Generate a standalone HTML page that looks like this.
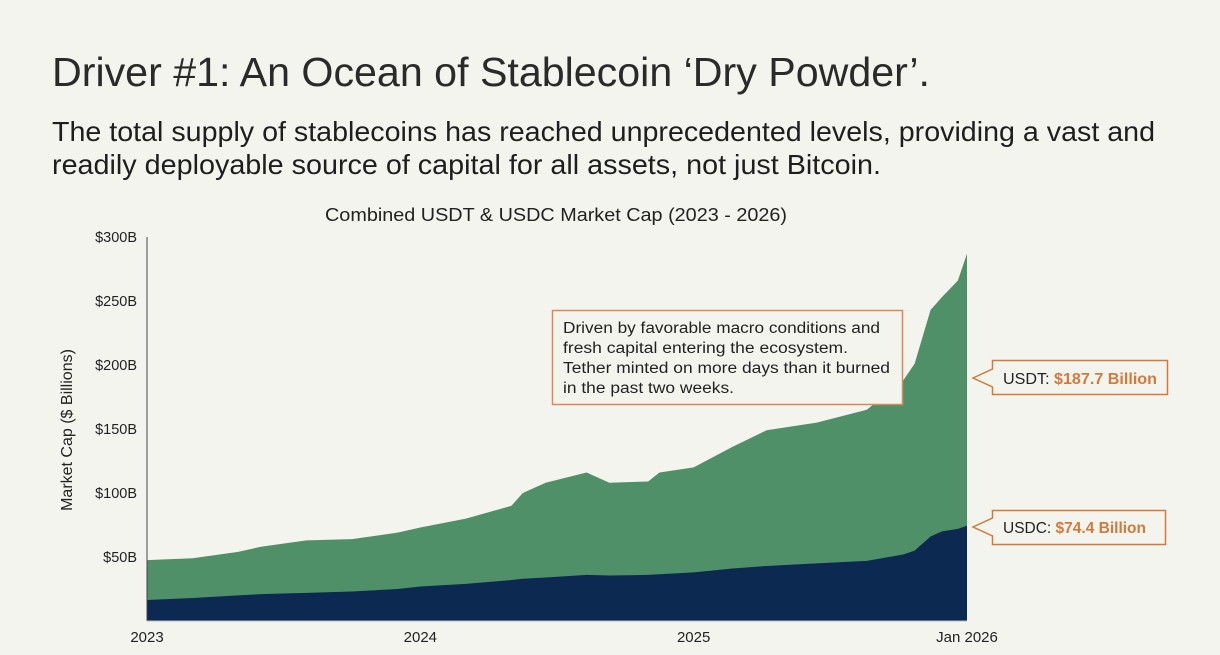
<!DOCTYPE html>
<html><head><meta charset="utf-8"><style>
body{margin:0;background:#f4f4ef;}
svg{display:block;font-family:"Liberation Sans",sans-serif;}
</style></head><body>
<svg id="chart" width="1220" height="655" viewBox="0 0 1220 655">
<rect x="0" y="0" width="1220" height="655" fill="#f4f4ef"/>
<text x="52" y="86" font-size="41" fill="#2a2a2a" textLength="878" lengthAdjust="spacingAndGlyphs">Driver #1: An Ocean of Stablecoin ‘Dry Powder’.</text>
<text x="52" y="141" font-size="27.5" fill="#1e1e1e" textLength="1103" lengthAdjust="spacingAndGlyphs">The total supply of stablecoins has reached unprecedented levels, providing a vast and</text>
<text x="52" y="174" font-size="27.5" fill="#1e1e1e" textLength="829" lengthAdjust="spacingAndGlyphs">readily deployable source of capital for all assets, not just Bitcoin.</text>
<text x="325" y="221" font-size="18" fill="#222" textLength="462" lengthAdjust="spacingAndGlyphs">Combined USDT &amp; USDC Market Cap (2023 - 2026)</text>
<text transform="translate(72,430) rotate(-90)" font-size="16" text-anchor="middle" fill="#222">Market Cap ($ Billions)</text>
<g id="areas"></g>
<g id="axes"></g>
<g>
<rect x="552.5" y="310.5" width="350" height="94" fill="#f4f4ef" stroke="#d8895a" stroke-width="1.5"/>
<text font-size="15.5" fill="#222"><tspan x="563" y="333" textLength="317" lengthAdjust="spacingAndGlyphs">Driven by favorable macro conditions and</tspan><tspan x="563" y="353" textLength="285" lengthAdjust="spacingAndGlyphs">fresh capital entering the ecosystem.</tspan><tspan x="563" y="373" textLength="327" lengthAdjust="spacingAndGlyphs">Tether minted on more days than it burned</tspan><tspan x="563" y="393" textLength="171" lengthAdjust="spacingAndGlyphs">in the past two weeks.</tspan></text>
</g>
<g>
<path d="M992.5 360.5 H1167.5 V394.5 H992.5 V387 L973 378 L992.5 369 Z" fill="#f4f4ef" stroke="#d27a3c" stroke-width="1.5"/>
<text x="1003" y="384" font-size="15.5" fill="#222" textLength="154" lengthAdjust="spacingAndGlyphs">USDT: <tspan font-weight="bold" fill="#d27a3c">$187.7 Billion</tspan></text>
</g>
<g>
<path d="M992.5 510.5 H1165.5 V544.5 H992.5 V536 L973 527 L992.5 518 Z" fill="#f4f4ef" stroke="#d27a3c" stroke-width="1.5"/>
<text x="1003" y="533" font-size="15.5" fill="#222">USDC: <tspan font-weight="bold" fill="#d27a3c">$74.4 Billion</tspan></text>
</g>
</svg>
<script>
const months=[0,2,4,5,7,9,11,12,14,16,16.5,17.5,19.3,20.3,22,22.5,24,25.7,27.2,29.4,31.6,33.2,33.7,34.4,34.9,35.6,36];
const usdc=[16.4,18,20,21,22,23,25,27,29,32,33,34,36,35.5,36,36.5,38,41,43,45,47,52,55,66,70,72,74.4];
const usdt=[31.2,31,34,37,41,41,44,46,51,58,67,74,80,72.5,73,79.5,82,95,106,110,118,136,146,177,183,194,212.6];
const yTicks=[50,100,150,200,250,300];
const yTickLabels=["$50B","$100B","$150B","$200B","$250B","$300B"];
const xTicks=[0,12,24,36];
const xTickLabels=["2023","2024","2025","Jan 2026"];

const NS="http://www.w3.org/2000/svg";
const X0=147,X1=967,Y0=621,Y1=237;
function xs(m){return X0+(m/36)*(X1-X0);}
function ys(v){return Y0-(v/300)*(Y0-Y1);}
function mk(tag,attrs,parent){const e=document.createElementNS(NS,tag);for(const k in attrs)e.setAttribute(k,attrs[k]);parent.appendChild(e);return e;}
const areas=document.getElementById('areas');
const axes=document.getElementById('axes');
let d="M"+xs(months[0])+","+ys(0);
months.forEach((m,i)=>{d+=" L"+xs(m)+","+ys(usdc[i]+usdt[i]);});
d+=" L"+xs(months[months.length-1])+","+ys(0)+" Z";
const a1=mk('path',{d:d,fill:'#4f9068'},areas);


let d2="M"+xs(months[0])+","+ys(0);
months.forEach((m,i)=>{d2+=" L"+xs(m)+","+ys(usdc[i]);});
d2+=" L"+xs(months[months.length-1])+","+ys(0)+" Z";
const a2=mk('path',{d:d2,fill:'#0c2951'},areas);


const ya=mk('line',{x1:X0,y1:Y1,x2:X0,y2:Y0,stroke:'#444','stroke-width':1},axes);


const xa=mk('line',{x1:X0,y1:Y0,x2:X1,y2:Y0,stroke:'#bbb','stroke-width':1},axes);


yTicks.forEach((v,i)=>{
  const t=mk('text',{x:137,y:ys(v)+5,'font-size':14.5,'text-anchor':'end',fill:'#222'},axes);
  t.textContent=yTickLabels[i];
  
  
});
xTicks.forEach((m,i)=>{
  const t=mk('text',{x:xs(m),y:642,'font-size':15,'text-anchor':'middle',fill:'#222'},axes);
  t.textContent=xTickLabels[i];
  
  
});
</script>
</body></html>
